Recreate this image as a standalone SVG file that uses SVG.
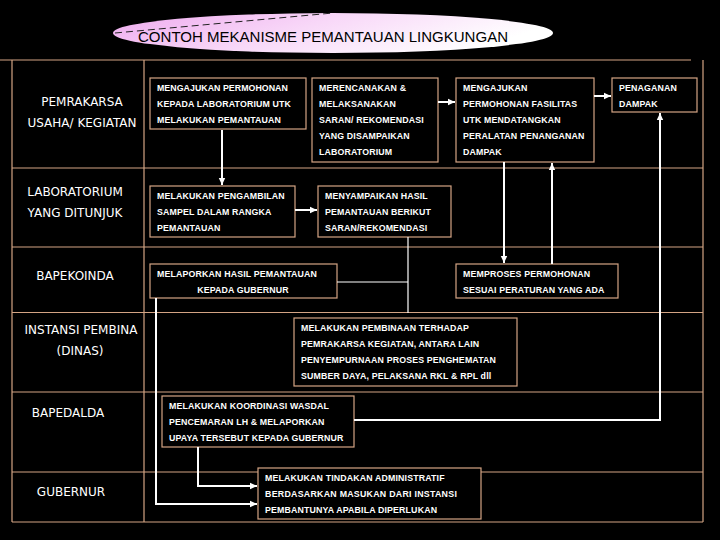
<svg xmlns="http://www.w3.org/2000/svg" width="720" height="540" viewBox="0 0 720 540">
<defs>
<linearGradient id="tg" x1="0" y1="0" x2="1" y2="0.3">
<stop offset="0" stop-color="#eeaaee"/>
<stop offset="0.5" stop-color="#f8d8f8"/>
<stop offset="1" stop-color="#ffffff"/>
</linearGradient>
<marker id="ah" markerUnits="userSpaceOnUse" markerWidth="8" markerHeight="8" viewBox="0 0 8 8" refX="7" refY="4" orient="auto">
<path d="M0,0.8 L7,4 L0,7.2 Z" fill="#ffffff"/>
</marker>
<style>
.grid{stroke:#d4a484;stroke-width:1.2;fill:none}
.box{stroke:#d4a484;stroke-width:1.2;fill:#000000}
.bt{font-family:"Liberation Sans",Arial,sans-serif;font-weight:bold;font-size:8.8px;letter-spacing:0.15px;fill:#ffffff}
.lt{font-family:"DejaVu Sans","Liberation Sans",sans-serif;font-size:12px;fill:#ffffff;text-anchor:middle}
.arr{stroke:#ffffff;stroke-width:2;fill:none;marker-end:url(#ah)}
.thin{stroke:#ffffff;stroke-width:1.2;fill:none}
.title{font-family:"Liberation Sans",Arial,sans-serif;font-size:14px;fill:#000000}
</style>
</defs>
<rect x="0" y="0" width="720" height="540" fill="#000000"/>

<g id="title">
<ellipse cx="333" cy="33" rx="220" ry="20" fill="url(#tg)"/>
<line x1="115" y1="33" x2="333" y2="13" stroke="#222222" stroke-width="1" stroke-dasharray="7,4"/>
<text class="title" x="138" y="42" textLength="370" lengthAdjust="spacingAndGlyphs">CONTOH MEKANISME PEMANTAUAN LINGKUNGAN</text>
</g>

<g id="grid">
<line class="grid" x1="0" y1="60" x2="691" y2="60"/>
<line class="grid" x1="703" y1="60" x2="703" y2="522"/>
<line class="grid" x1="12" y1="60" x2="12" y2="522"/>
<line class="grid" x1="144" y1="60" x2="144" y2="522"/>
<line class="grid" x1="12" y1="168" x2="703" y2="168"/>
<line class="grid" x1="12" y1="247" x2="703" y2="247"/>
<line class="grid" x1="12" y1="312.5" x2="703" y2="312.5"/>
<line class="grid" x1="12" y1="392" x2="703" y2="392"/>
<line class="grid" x1="12" y1="472" x2="703" y2="472"/>
<line class="grid" x1="12" y1="522" x2="703" y2="522"/>
</g>

<g id="row-labels">
<g id="lbl-pemrakarsa"><text class="lt" x="82" y="106">PEMRAKARSA</text><text class="lt" x="82" y="127">USAHA/ KEGIATAN</text></g>
<g id="lbl-lab"><text class="lt" x="75" y="196">LABORATORIUM</text><text class="lt" x="75" y="217">YANG DITUNJUK</text></g>
<g id="lbl-bapekoinda"><text class="lt" x="75" y="280">BAPEKOINDA</text></g>
<g id="lbl-instansi"><text class="lt" x="81" y="334">INSTANSI PEMBINA</text><text class="lt" x="80" y="355">(DINAS)</text></g>
<g id="lbl-bapedalda"><text class="lt" x="68" y="417">BAPEDALDA</text></g>
<g id="lbl-gubernur"><text class="lt" x="71" y="496">GUBERNUR</text></g>
</g>

<g id="b1"><rect class="box" x="150" y="78" width="156" height="51"/>
<text class="bt" x="157" y="91" textLength="131">MENGAJUKAN PERMOHONAN</text>
<text class="bt" x="157" y="107">KEPADA LABORATORIUM UTK</text>
<text class="bt" x="157" y="123">MELAKUKAN PEMANTAUAN</text></g>

<g id="b2"><rect class="box" x="312" y="78" width="126" height="84"/>
<text class="bt" x="319" y="91">MERENCANAKAN &amp;</text>
<text class="bt" x="319" y="107">MELAKSANAKAN</text>
<text class="bt" x="319" y="123">SARAN/ REKOMENDASI</text>
<text class="bt" x="319" y="139">YANG DISAMPAIKAN</text>
<text class="bt" x="319" y="155">LABORATORIUM</text></g>

<g id="b3"><rect class="box" x="456" y="78" width="138" height="84"/>
<text class="bt" x="463" y="91">MENGAJUKAN</text>
<text class="bt" x="463" y="107">PERMOHONAN FASILITAS</text>
<text class="bt" x="463" y="123">UTK MENDATANGKAN</text>
<text class="bt" x="463" y="139">PERALATAN PENANGANAN</text>
<text class="bt" x="463" y="155">DAMPAK</text></g>

<g id="b4"><rect class="box" x="612" y="78" width="85" height="34"/>
<text class="bt" x="619" y="91">PENAGANAN</text>
<text class="bt" x="619" y="107">DAMPAK</text></g>

<g id="b5"><rect class="box" x="150" y="186" width="145" height="51"/>
<text class="bt" x="157" y="199">MELAKUKAN PENGAMBILAN</text>
<text class="bt" x="157" y="215">SAMPEL DALAM RANGKA</text>
<text class="bt" x="157" y="231">PEMANTAUAN</text></g>

<g id="b6"><rect class="box" x="318" y="186" width="133" height="51"/>
<text class="bt" x="325" y="199">MENYAMPAIKAN HASIL</text>
<text class="bt" x="325" y="215">PEMANTAUAN BERIKUT</text>
<text class="bt" x="325" y="231">SARAN/REKOMENDASI</text></g>

<g id="b7"><rect class="box" x="150" y="264" width="187" height="34"/>
<text class="bt" x="157" y="277">MELAPORKAN HASIL PEMANTAUAN</text>
<text class="bt" x="243" y="293" text-anchor="middle">KEPADA GUBERNUR</text></g>

<g id="b8"><rect class="box" x="456" y="264" width="162" height="34"/>
<text class="bt" x="463" y="277">MEMPROSES PERMOHONAN</text>
<text class="bt" x="463" y="293">SESUAI PERATURAN YANG ADA</text></g>

<g id="b9"><rect class="box" x="294" y="318" width="223" height="68"/>
<text class="bt" x="301" y="331">MELAKUKAN PEMBINAAN TERHADAP</text>
<text class="bt" x="301" y="347">PEMRAKARSA KEGIATAN, ANTARA LAIN</text>
<text class="bt" x="301" y="363">PENYEMPURNAAN PROSES PENGHEMATAN</text>
<text class="bt" x="301" y="379">SUMBER DAYA, PELAKSANA RKL &amp; RPL dll</text></g>

<g id="b10"><rect class="box" x="162" y="396" width="192" height="51"/>
<text class="bt" x="169" y="409">MELAKUKAN KOORDINASI WASDAL</text>
<text class="bt" x="169" y="425">PENCEMARAN LH &amp; MELAPORKAN</text>
<text class="bt" x="169" y="441">UPAYA TERSEBUT KEPADA GUBERNUR</text></g>

<g id="b11"><rect class="box" x="258" y="468" width="223" height="51"/>
<text class="bt" x="265" y="481">MELAKUKAN TINDAKAN ADMINISTRATIF</text>
<text class="bt" x="265" y="497" textLength="192">BERDASARKAN MASUKAN DARI INSTANSI</text>
<text class="bt" x="265" y="513">PEMBANTUNYA APABILA DIPERLUKAN</text></g>

<g id="connectors">
<path class="arr" d="M222,130 V185"/>
<path class="arr" d="M438,102 H455"/>
<path class="arr" d="M594,96 H611"/>
<path class="arr" d="M295,210 H317"/>
<path class="arr" d="M504,162 V263"/>
<path class="arr" d="M552,264 V163"/>
<path class="arr" d="M354,420 H660 V113"/>
<path class="thin" d="M408,237 V313"/>
<path class="thin" d="M337,282 H408"/>
<path class="arr" d="M156,298 V504 H257"/>
<path class="arr" d="M198,447 V486 H257"/>
</g>
</svg>
